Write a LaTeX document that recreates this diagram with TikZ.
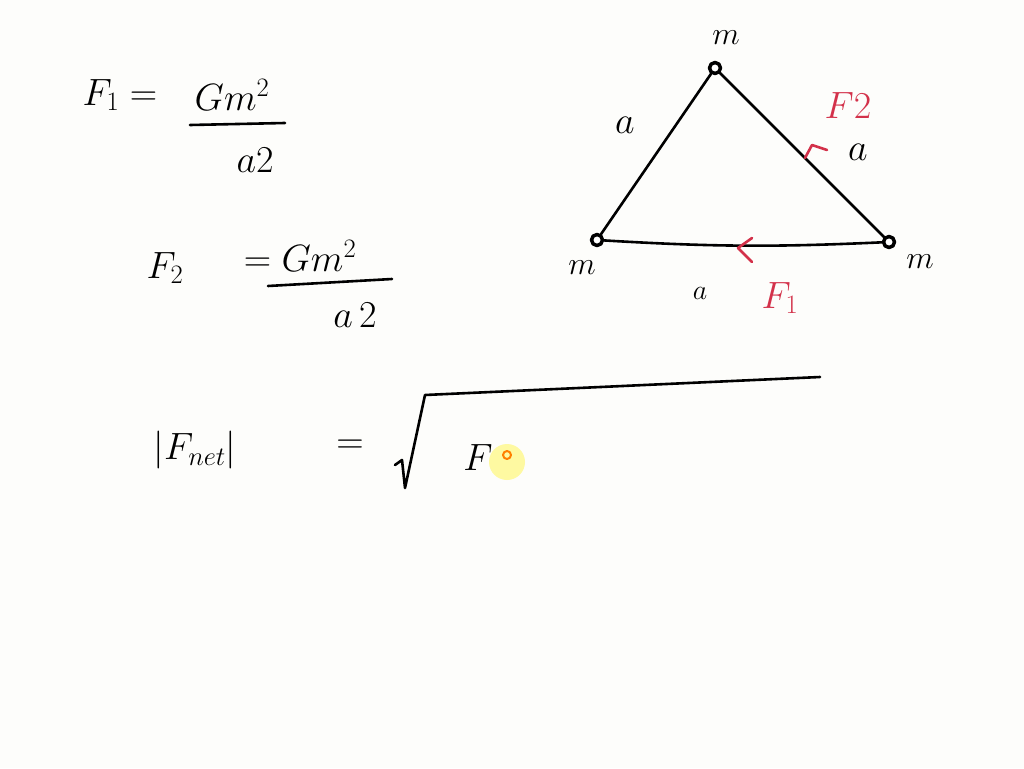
\RequirePackage{fix-cm}
\documentclass[tikz,border=0pt]{standalone}
\begin{document}
\begin{tikzpicture}[x=1pt,y=-1pt,line width=2.6pt,line cap=round,line join=round,
  txt/.style={font=\fontsize{38}{42}\selectfont},
  red txt/.style={txt,text=redink},
  vtx/.style={circle,draw,fill=white,line width=3.5pt,inner sep=0pt,minimum size=11pt}]
\definecolor{redink}{HTML}{D3314A}
\definecolor{bg}{HTML}{FDFDFB}
\fill[bg] (0,0) rectangle (1024,768);
\useasboundingbox (0,0) rectangle (1024,768);
% equations
\node[txt] (f1) at (120,95) {$F_1 =$};
\node[txt] (n1) at (232,95) {$Gm^2$};
\draw (190,125) -- (285,123);
\node[txt] (d1) at (255,160) {$a2$};
\node[txt] (f2) at (165,268) {$F_2$};
\node[txt] (n2) at (300,256) {$=Gm^2$};
\draw (268,286) -- (392,279);
\node[txt] (d2) at (355,315) {$a\,2$};
\node[txt] (fn) at (195,450) {$|F_{net}|$};
\node[txt] (eq) at (350,447) {$=$};
\draw (395,465) -- (402,460) -- (405,488) -- (425,395) -- (820,377);
\node[txt] (F) at (478,458) {$F$};
\fill[yellow!60,opacity=0.6] (507,462) circle (18pt);
\draw[orange,line width=2pt] (507,455) circle (4pt);
% triangle
\node[vtx] (top) at (715,68) {};
\node[vtx] (lft) at (597,240) {};
\node[vtx] (rgt) at (889,242) {};
\draw (top) -- (lft);
\draw (top) -- (rgt);
\draw (lft) to[bend right=3] (rgt);
\node[txt,font=\fontsize{32}{36}\selectfont] (mt) at (726,38) {$m$};
\node[txt,font=\fontsize{32}{36}\selectfont] (ml) at (582,268) {$m$};
\node[txt,font=\fontsize{32}{36}\selectfont] (mr) at (920,262) {$m$};
\node[txt] (a1) at (625,125) {$a$};
\node[txt] (a2) at (858,152) {$a$};
\node[txt,font=\fontsize{28}{32}\selectfont] (a3) at (700,293) {$a$};
\node[red txt] (F2l) at (848,106) {$F2$};
\node[red txt] (F1l) at (780,298) {$F_1$};
\draw[redink] (805,158) -- (812,145) -- (827,150);
\draw[redink] (752,238) -- (738,248) -- (752,262);
\end{tikzpicture}
\end{document}
